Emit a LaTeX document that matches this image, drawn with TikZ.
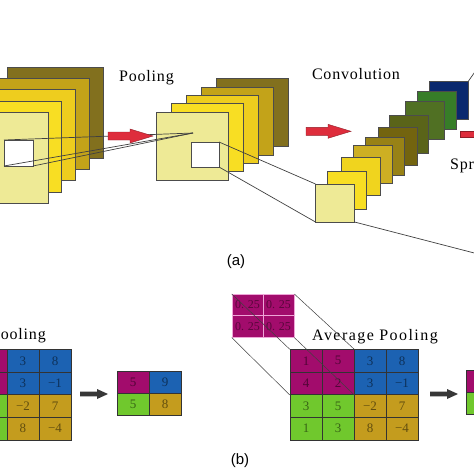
\documentclass[tikz,border=0pt]{standalone}
\usepackage{fontspec}
\setmainfont{Liberation Serif}
\newfontfamily\labsans{Liberation Sans}
\newfontfamily\spacedA[LetterSpace=5]{Liberation Serif}
\newfontfamily\spacedB[LetterSpace=9]{Liberation Serif}
\definecolor{cA}{RGB}{238,234,150}
\definecolor{cB}{RGB}{248,222,35}
\definecolor{cC}{RGB}{238,205,30}
\definecolor{cD}{RGB}{195,163,25}
\definecolor{cE}{RGB}{130,112,30}
\definecolor{v3}{RGB}{240,212,30}
\definecolor{v4}{RGB}{205,175,35}
\definecolor{v5}{RGB}{152,130,22}
\definecolor{v6}{RGB}{115,100,15}
\definecolor{v7}{RGB}{90,100,25}
\definecolor{v8}{RGB}{80,112,35}
\definecolor{v9}{RGB}{55,125,40}
\definecolor{v10}{RGB}{10,40,110}
\definecolor{arrred}{RGB}{222,45,60}
\definecolor{arrblk}{RGB}{55,55,55}
\definecolor{mag}{RGB}{162,12,108}
\definecolor{blu}{RGB}{28,98,178}
\definecolor{grn}{RGB}{112,200,45}
\definecolor{gld}{RGB}{196,156,30}
\definecolor{kline}{RGB}{238,165,215}
\begin{document}
\begin{tikzpicture}[x=1pt,y=-1pt,
  sq/.style={draw=black!70, line width=0.6pt, inner sep=0pt, outer sep=0pt},
  bigsq/.style={sq, fill=#1, minimum width=96pt, minimum height=91pt},
  midsq/.style={sq, fill=#1, minimum width=72pt, minimum height=68pt},
  smsq/.style={sq, fill=#1, minimum width=39pt, minimum height=38pt},
  win/.style={sq, fill=white},
  proj/.style={draw=black!75, line width=0.7pt},
  lbl/.style={font=\spacedA\fontsize{16}{16}\selectfont, inner sep=0pt},
  cell/.style={draw=black!80, line width=0.5pt, fill=#1, text=#1!50!black,
     minimum width=32pt, minimum height=22.6pt, inner sep=0pt,
     font=\fontsize{13}{13}\selectfont},
  ocell/.style={cell=#1, minimum height=22pt},
  kcell/.style={draw=kline, line width=0.6pt, fill=mag, text=mag!55!black,
     minimum width=31pt, minimum height=21.5pt, inner sep=0pt,
     font=\fontsize{12}{12}\selectfont},
  redarr/.pic={\filldraw[fill=arrred, draw=arrred!65!black, line width=0.4pt]
     (0,-4) -- (22,-4) -- (22,-7) -- (45,0) -- (22,7) -- (22,4) -- (0,4) -- cycle;},
  blkarr/.pic={\fill[arrblk]
     (0,-2.3) -- (17,-2.3) -- (17,-5) -- (28,0) -- (17,5) -- (17,2.3) -- (0,2.3) -- cycle;}
]
\useasboundingbox (0,0) rectangle (474,474);
\clip (0,0) rectangle (474,474);

% ---------- (a) left stack
\node[bigsq=cE] (a5) at (55,112.5) {};
\node[bigsq=cD] (a4) at (41.25,123.9) {};
\node[bigsq=cC] (a3) at (27.5,135.25) {};
\node[bigsq=cB] (a2) at (13.75,146.6) {};
\node[bigsq=cA] (a1) at (0,158) {};
\node[win, minimum width=29pt, minimum height=26pt] (w1) at (18.5,153) {};

% ---------- (a) second stack
\node[midsq=cE] (b5) at (252.5,112.5) {};
\node[midsq=cD] (b4) at (237.4,120.9) {};
\node[midsq=cC] (b3) at (222.25,129.25) {};
\node[midsq=cB] (b2) at (207.1,137.6) {};
\node[midsq=cA] (b1) at (192,146) {};
\node[win, minimum width=28pt, minimum height=25pt] (w2) at (205,154.5) {};

% ---------- (a) convolution stack
\node[smsq=v10] (v10) at (449,100) {};
\node[smsq=v9] (v9) at (437,110.5) {};
\node[smsq=v8] (v8) at (424.5,120) {};
\node[smsq=v7] (v7) at (409,134) {};
\node[smsq=v6] (v6) at (397.5,146) {};
\node[smsq=v5] (v5) at (384.5,156) {};
\node[smsq=v4] (v4) at (373,164.5) {};
\node[smsq=v3] (v3) at (360.5,176) {};
\node[smsq=cB] (v2) at (346.5,190.5) {};
\node[smsq=cA] (v1) at (335,203) {};

% projection lines (a)
\coordinate (p1) at (193,133);
\coordinate (e1) at (482,255);
\coordinate (e2) at (479,66);
\draw[proj] (w1.north west) -- (p1);
\draw[proj] (w1.south west) -- (p1);
\draw[proj] (w1.south east) -- (p1);
\draw[proj] (w2.north east) -- (v1.north west);
\draw[proj] (w2.south east) -- (v1.south west);
\draw[proj] (v1.south east) -- (e1);
\draw[proj] (v10.north east) -- (e2);

% red arrows
\pic at (108,136) {redarr};
\pic at (306,131.3) {redarr};
\filldraw[fill=arrred, draw=arrred!65!black, line width=0.4pt] (460,131) rectangle (480,137);

% labels (a)
\node[lbl, anchor=base] (tpool) at (146.5,81) {Pooling};
\node[lbl, anchor=base] (tconv) at (356,79) {Convolution};
\node[lbl, anchor=base west] (tspr) at (450,169) {Spr};
\node[font=\labsans\fontsize{15}{15}\selectfont] (la) at (236,262) {(a)};

% ---------- (b) left: max pooling
\node[lbl, anchor=base east] (tmax) at (46,339) {Pooling};
\node[cell=mag] (l11) at (-41,360.8) {};
\node[cell=mag] (l12) at (-9,360.8) {};
\node[cell=blu] (l13) at (23,360.8) {3};
\node[cell=blu] (l14) at (55,360.8) {8};
\node[cell=mag] (l21) at (-41,383.4) {};
\node[cell=mag] (l22) at (-9,383.4) {};
\node[cell=blu] (l23) at (23,383.4) {3};
\node[cell=blu] (l24) at (55,383.4) {−1};
\node[cell=grn] (l31) at (-41,406) {};
\node[cell=grn] (l32) at (-9,406) {};
\node[cell=gld] (l33) at (23,406) {−2};
\node[cell=gld] (l34) at (55,406) {7};
\node[cell=grn] (l41) at (-41,428.6) {};
\node[cell=grn] (l42) at (-9,428.6) {};
\node[cell=gld] (l43) at (23,428.6) {8};
\node[cell=gld] (l44) at (55,428.6) {−4};

\pic at (80,394) {blkarr};
\node[ocell=mag] (m11) at (133,382) {5};
\node[ocell=blu] (m12) at (165,382) {9};
\node[ocell=grn] (m21) at (133,404) {5};
\node[ocell=gld] (m22) at (165,404) {8};

% ---------- (b) right: average pooling
\node[kcell] (k11) at (247.5,305) {0.\,\,25};
\node[kcell] (k12) at (278.5,305) {0.\,\,25};
\node[kcell] (k21) at (247.5,326.5) {0.\,\,25};
\node[kcell] (k22) at (278.5,326.5) {0.\,\,25};
\node[lbl, font=\spacedB\fontsize{16}{16}\selectfont, anchor=base] (tavg) at (375,340) {Average Pooling};

\node[cell=mag] (r11) at (306,360.8) {1};
\node[cell=mag] (r12) at (338,360.8) {5};
\node[cell=blu] (r13) at (370,360.8) {3};
\node[cell=blu] (r14) at (402,360.8) {8};
\node[cell=mag] (r21) at (306,383.4) {4};
\node[cell=mag] (r22) at (338,383.4) {2};
\node[cell=blu] (r23) at (370,383.4) {3};
\node[cell=blu] (r24) at (402,383.4) {−1};
\node[cell=grn] (r31) at (306,406) {3};
\node[cell=grn] (r32) at (338,406) {5};
\node[cell=gld] (r33) at (370,406) {−2};
\node[cell=gld] (r34) at (402,406) {7};
\node[cell=grn] (r41) at (306,428.6) {1};
\node[cell=grn] (r42) at (338,428.6) {3};
\node[cell=gld] (r43) at (370,428.6) {8};
\node[cell=gld] (r44) at (402,428.6) {−4};

\draw[proj, line width=0.5pt] (k11.north west) -- (r11.north west);
\draw[proj, line width=0.5pt] (k12.north east) -- (r12.north east);
\draw[proj, line width=0.5pt] (k21.south west) -- (r21.south west);
\draw[proj, line width=0.5pt] (k22.south east) -- (r22.south east);

\pic at (430,394) {blkarr};
\node[ocell=mag] (n11) at (482,381.5) {};
\node[ocell=grn] (n21) at (482,403.5) {};

\node[font=\labsans\fontsize{15}{15}\selectfont] (lb) at (240,461) {(b)};
\end{tikzpicture}
\end{document}
